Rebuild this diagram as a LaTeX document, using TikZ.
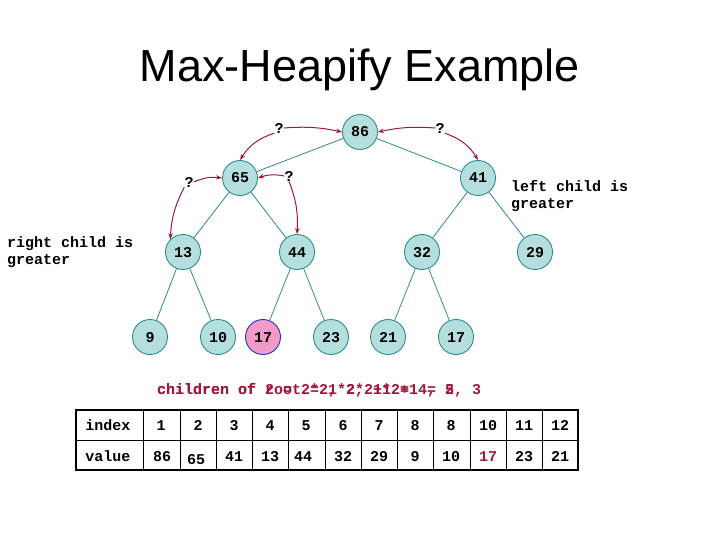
\documentclass[tikz,border=0pt]{standalone}
\usepackage{fontspec}
\setmainfont{Liberation Sans}
\newfontfamily\mono{Liberation Mono}
\usetikzlibrary{arrows.meta}
\definecolor{nfill}{HTML}{B5DFDF}
\definecolor{nline}{HTML}{2E8B8B}
\definecolor{mar}{HTML}{A0183C}
\definecolor{pinkf}{HTML}{F49AC8}
\begin{document}
\begin{tikzpicture}[x=1pt,y=-1pt,
  hn/.style={circle,draw=nline,fill=nfill,line width=0.9pt,minimum size=35pt,inner sep=0pt,text height=10pt,text depth=0pt,font=\mono\bfseries\fontsize{15}{15}\selectfont},
  edge/.style={draw=nline,line width=0.8pt},
  qa/.style={draw=mar,line width=1pt,-{Stealth[length=6pt]}},
  lbl/.style={font=\mono\bfseries\fontsize{15}{17}\selectfont,align=left,anchor=north west,inner sep=0pt},
  cell/.style={text height=10pt,text depth=0pt,font=\mono\bfseries\fontsize{15}{15}\selectfont}]
\useasboundingbox (0,0) rectangle (720,540);
\node[font=\fontsize{45}{45}\selectfont] (title) at (360,70) {Max-Heapify Example};
\node[hn] (n86) at (360,132) {86};
\node[hn] (n65) at (240,178) {65};
\node[hn] (n41) at (478,178) {41};
\node[hn] (n13) at (183,252) {13};
\node[hn] (n44) at (297,252) {44};
\node[hn] (n32) at (422,252) {32};
\node[hn] (n29) at (535,252) {29};
\node[hn] (n9) at (150,337) {9};
\node[hn] (n10) at (218,337) {10};
\node[hn,fill=pinkf,draw=blue!60!nline] (n17a) at (263,337) {17};
\node[hn] (n23) at (331,337) {23};
\node[hn] (n21) at (388,337) {21};
\node[hn] (n17b) at (456,337) {17};
\foreach \a/\b in {n86/n65,n86/n41,n65/n13,n65/n44,n41/n32,n41/n29,n13/n9,n13/n10,n44/n17a,n44/n23,n32/n21,n32/n17b}
  \draw[edge] (\a) -- (\b);
\node[lbl,anchor=center] (q1) at (279,128) {?};
\node[lbl,anchor=center] (q2) at (440,128) {?};
\node[lbl,anchor=center] (q3) at (289,176) {?};
\node[lbl,anchor=center] (q4) at (189,182) {?};
\draw[qa] (q1.east) to[bend left=8] (n86.west);
\draw[qa] (q1.south west) to[bend right=20] (n65.north);
\draw[qa] (q2.west) to[bend right=8] (n86.east);
\draw[qa] (q2.south east) to[bend left=20] (n41.north);
\draw[qa] (q3.west) to[bend right=15] (n65.east);
\draw[qa] (q3.south) to[bend left=12] (n44.north);
\draw[qa] (q4.east) to[bend left=15] (n65.west);
\draw[qa] (q4.south west) to[bend right=12] (n13.north west);
\node[lbl] (lc) at (511,180) {left child is\\greater};
\node[lbl] (rc) at (7,236) {right child is\\greater};
\node[lbl,text=mar] (c1) at (157,383) {children of 2 = 2*2, 2*2+1 = 4, 5};
\node[lbl,text=mar] (c2) at (157,383) {children of root = 1*2, 1*2+1 = 2, 3};
% table
\draw[line width=1.5pt] (76,410) rectangle (578,470);
\draw[line width=0.8pt] (76,440) -- (578,440);
\foreach \x in {143,180,216,252,288,325,361,397,433,470,506,542}
  \draw[line width=0.8pt] (\x,410) -- (\x,470);
\node[cell] (hi) at (108,425) {index};
\node[cell] (hv) at (108,456) {value};
\foreach \x/\i in {161/1,198/2,234/3,270/4,306/5,343/6,379/7,415/8,451/8,488/10,524/11,560/12}{
  \node[cell] at (\x,425) {\i};
}
\foreach \x/\v in {162/86,234/41,270/13,343/32,379/29,415/9,451/10,524/23,560/21}
  \node[cell] at (\x,456) {\v};
\node[cell] (v65) at (196,459) {65};
\node[cell] (v44) at (303,456) {44};
\node[cell,text=mar] (v17) at (488,456) {17};
\end{tikzpicture}
\end{document}
